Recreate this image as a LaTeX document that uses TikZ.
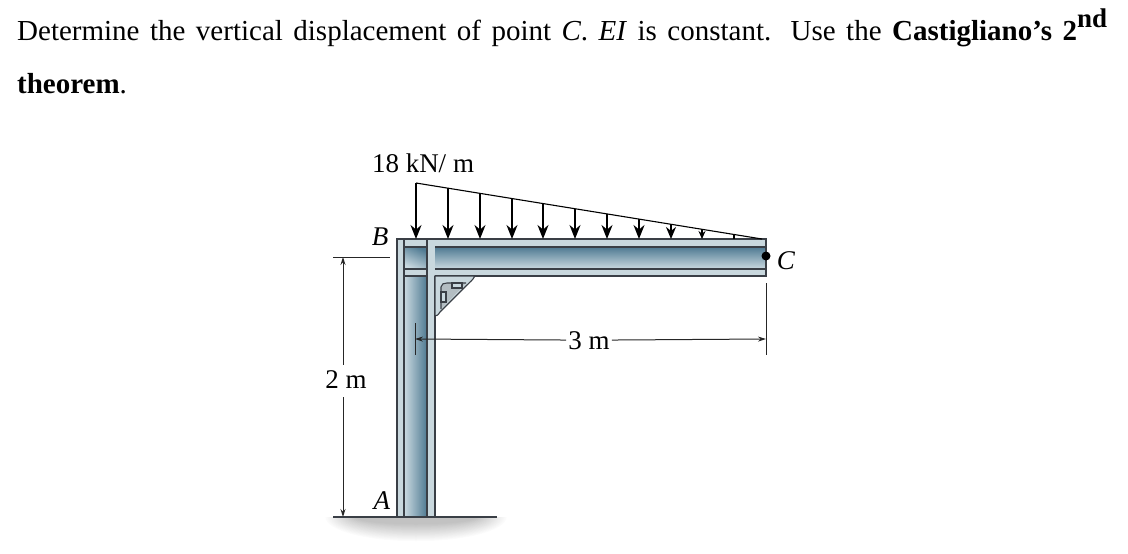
\documentclass[tikz,border=0pt]{standalone}
\usepackage{fontspec}
\setmainfont{Liberation Serif}
\usetikzlibrary{arrows.meta,positioning,shadings}
\definecolor{flangeblue}{HTML}{C9D8DE}
\definecolor{webdark}{HTML}{4F7A92}
\definecolor{weblight}{HTML}{CBDAE1}
\definecolor{edgegray}{HTML}{3A3F46}
\newcommand{\bodysize}{\fontsize{29}{34}\selectfont}
\newcommand{\labelsize}{\fontsize{27}{30}\selectfont}
\tikzset{
  member/.style={draw=edgegray,line width=1.6pt},
  thinedge/.style={draw=edgegray,line width=1.1pt},
  dimline/.style={draw=black!85,line width=1pt},
  loadline/.style={draw=black,line width=1.6pt},
  steellabel/.style={inner sep=0pt,font=\labelsize},
}
\begin{document}
\begin{tikzpicture}[x=1pt,y=-1pt]
  \useasboundingbox (0,0) rectangle (1128,554);
  % question text
  \node[anchor=base west,inner sep=0pt,font=\bodysize] (line1) at (17,40)
    {\makebox[1090pt][s]{Determine the vertical displacement of point \textit{C}. \textit{EI} is constant. Use the \textbf{Castigliano’s 2\raisebox{13pt}{\fontsize{27}{30}\selectfont nd}}}};
  \node[anchor=base west,inner sep=0pt,font=\bodysize] (line2) at (17,93) {\textbf{theorem}.};
  % ground
  \begin{scope}
    \clip (310,517) rectangle (520,550);
    \foreach \i in {1,...,24} {
      \fill[black!\i] (416,517) ellipse ({92-1.3*\i} and {25-0.75*\i});
    }
  \end{scope}
  \coordinate (gl) at (333,517);
  \coordinate (gr) at (497,517);
  % column
  \fill[flangeblue] (397,239) rectangle (435,517);
  \shade[left color=weblight,middle color=weblight!75!webdark,right color=webdark] (404,276) rectangle (427,517);
  \shade[top color=webdark,bottom color=weblight,shading angle=-25] (404,247) rectangle (427,269);
  \fill[flangeblue] (404,269) rectangle (427,276);
  % beam
  \fill[flangeblue] (435,239) rectangle (766,276);
  \shade[top color=webdark,bottom color=weblight] (435,247) rectangle (766,269);
  \draw[thinedge] (404,239) -- (404,517) (427,239) -- (427,517);
  \draw[thinedge] (404,247) -- (427,247) (404,269) -- (427,269) (404,276) -- (427,276);
  \draw[thinedge] (435,247) -- (766,247) (435,269) -- (766,269);
  \draw[member] (435,276) -- (435,517) (397,517) -- (397,239) -- (766,239) -- (766,276) -- (435,276);
  % gusset
  \draw[thinedge,fill=flangeblue] (435,276) -- (475,276) .. controls (472,281) and (470,282) .. (467,285)
    -- (440,312) .. controls (438,315) and (437,316) .. (435,316) -- cycle;
  \fill[flangeblue!70!gray] (441,287) .. controls (441,284) and (444,283) .. (447,283) -- (466,283)
    -- (441,309) -- cycle;
  \draw[thinedge] (441,309) -- (441,287) .. controls (441,284) and (444,283) .. (447,283) -- (466,283);
  \draw[thinedge,fill=flangeblue] (452,283) rectangle (462,288);
  \draw[thinedge,fill=flangeblue] (441,292) rectangle (446,302);
  % ground line
  \draw[member,line width=1.8pt] (gl) -- (gr);
  % distributed load
  \coordinate (loadstart) at (416,183);
  \coordinate (loadend) at (762,239);
  \draw[loadline,line width=1.1pt] (loadstart) -- (loadend);
  \foreach \x/\h/\w in {416/14/11,448/14/11,480/14/11,512/14/11,543/14/11,575/14/11,607/14/11,639/14/11,671/12/10,702/8/7} {
    \coordinate (top\x) at (\x,{183+(\x-416)*0.1618});
    \coordinate (bot\x) at (\x,239);
    \draw[loadline,-{Stealth[length=\h pt,width=\w pt]}] (top\x) -- (bot\x);
  }
  \coordinate (top734) at (734,234.5);
  \coordinate (bot734) at (734,239);
  \draw[loadline] (top734) -- (bot734);
  \node[steellabel,anchor=base] (loadlabel) at (423,172) {18 kN/ m};
  \node[steellabel,anchor=base] (pointb) at (380,245) {\textit{B}};
  \node[steellabel,anchor=base] (pointa) at (382,509) {\textit{A}};
  \node[steellabel,anchor=base] (pointc) at (786,269) {\textit{C}};
  \node[circle,fill=black,inner sep=0pt,minimum size=9pt] (dotc) at (766,256) {};
  % dimensions
  \coordinate (btick) at (333,257);
  \coordinate (btickend) at (390,257);
  \draw[dimline] (btick) -- (btickend);
  \node[steellabel,anchor=base] (twom) at (346,388) {2 m};
  \coordinate (twotop) at (343,257);
  \coordinate (twobot) at (343,517);
  \draw[dimline,{Stealth[length=8pt,width=5pt]}-] (twotop) -- (343,365);
  \draw[dimline,-{Stealth[length=8pt,width=5pt]}] (343,397) -- (twobot);
  \coordinate (ltick) at (415,323);
  \coordinate (ltickend) at (415,355);
  \coordinate (rtick) at (766,283);
  \coordinate (rtickend) at (766,355);
  \draw[dimline] (ltick) -- (ltickend);
  \draw[dimline] (rtick) -- (rtickend);
  \node[steellabel,anchor=base,inner xsep=2pt,inner ysep=3pt] (threem) at (589,349) {3 m};
  \coordinate (threel) at (415,339);
  \coordinate (threer) at (766,339);
  \draw[dimline,{Stealth[length=8pt,width=5pt]}-] (threel) -- (threem);
  \draw[dimline,-{Stealth[length=8pt,width=5pt]}] (threem) -- (threer);
\end{tikzpicture}
\end{document}
